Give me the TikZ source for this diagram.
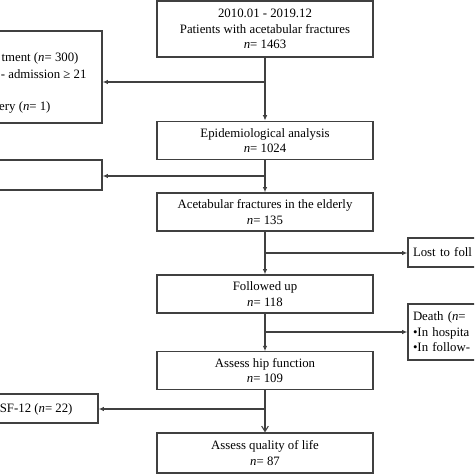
\documentclass[tikz,border=0pt]{standalone}
\usepackage{fontspec}
\setmainfont{Liberation Serif}
\usetikzlibrary{arrows.meta}
\definecolor{linegray}{RGB}{64,64,64}
\tikzset{every picture/.style={line width=0.75pt}}

\begin{document}
\begin{tikzpicture}[x=0.75pt,y=0.75pt,yscale=-1,xscale=1,
  txt/.style={inner sep=0.75pt,font=\fontsize{9.6}{11.6}\selectfont},
  box/.style={txt,draw=linegray,line width=0.9pt,align=center,minimum width=162pt},
  sidebox/.style={txt,draw=linegray,line width=0.9pt},
  flow/.style={draw=linegray,line width=0.8pt,-{Latex[length=4pt,width=3.4pt]}},
  lastflow/.style={draw=linegray,line width=0.8pt,-{Straight Barb[length=4pt,width=5pt]}}]
%set diagram to 474 x 474 and cut everything outside
\clip (0,0) rectangle (474,474);

%Main column
\node (start) at (265,29) [box,minimum height=42pt] {2010.01 - 2019.12\\Patients with acetabular fractures\\\textit{n}= 1463};
\node (epi) at (265,140.5) [box,minimum height=29pt] {Epidemiological analysis\\\textit{n}= 1024};
\node (elderly) at (265,212) [box,minimum height=28.5pt] {Acetabular fractures in the elderly\\\textit{n}= 135};
\node (follow) at (265,294) [box,minimum height=28.5pt] {Followed up\\\textit{n}= 118};
\node (hip) at (265,370.5) [box,minimum height=28pt] {Assess hip function\\\textit{n}= 109};
\node (qol) at (265,453) [box,minimum height=30pt] {Assess quality of life\\\textit{n}= 87};

%Side boxes, left
\node (excl) at (-9,77) [sidebox,minimum width=166.5pt,minimum height=69pt] {};
\node (exclA) at (80,58) [txt,anchor=east] {tment (\textit{n}= 300)};
\node (exclB) at (88,74) [txt,anchor=east] {- admission ≥ 21};
\node (exclC) at (52,107) [txt,anchor=east] {ery (\textit{n}= 1)};
\node (young) at (-9,175) [sidebox,minimum width=166.5pt,minimum height=22.5pt] {};
\node (nosf) at (-11,408.5) [sidebox,minimum width=163.5pt,minimum height=21.75pt] {};
\node (nosfA) at (74,409) [txt,anchor=east] {SF-12 (\textit{n}= 22)};

%Side boxes, right
\node (lost) at (484,252.5) [sidebox,align=left,text width=106.5pt,inner xsep=3.75pt,minimum height=21.75pt] {Lost to foll};
\node (death) at (484,332) [sidebox,align=left,text width=106.5pt,inner xsep=3.75pt,minimum height=42pt] {Death (\textit{n}=\\•In hospita\\•In follow-};

%Branch points
\coordinate (b1) at (265,82);
\coordinate (b2) at (265,176);
\coordinate (b3) at (265,253);
\coordinate (b4) at (265,332);
\coordinate (b5) at (265,409);

%Connectors
\draw [flow] (start) -- (epi);
\draw [flow] (b1) -- (excl.east |- b1);
\draw [flow] (epi) -- (elderly);
\draw [flow] (b2) -- (young.east |- b2);
\draw [flow] (elderly) -- (follow);
\draw [flow] (b3) -- (lost.west |- b3);
\draw [flow] (follow) -- (hip);
\draw [flow] (b4) -- (death.west |- b4);
\draw [lastflow] (hip) -- (qol);
\draw [flow] (b5) -- (nosf.east |- b5);

\end{tikzpicture}
\end{document}
